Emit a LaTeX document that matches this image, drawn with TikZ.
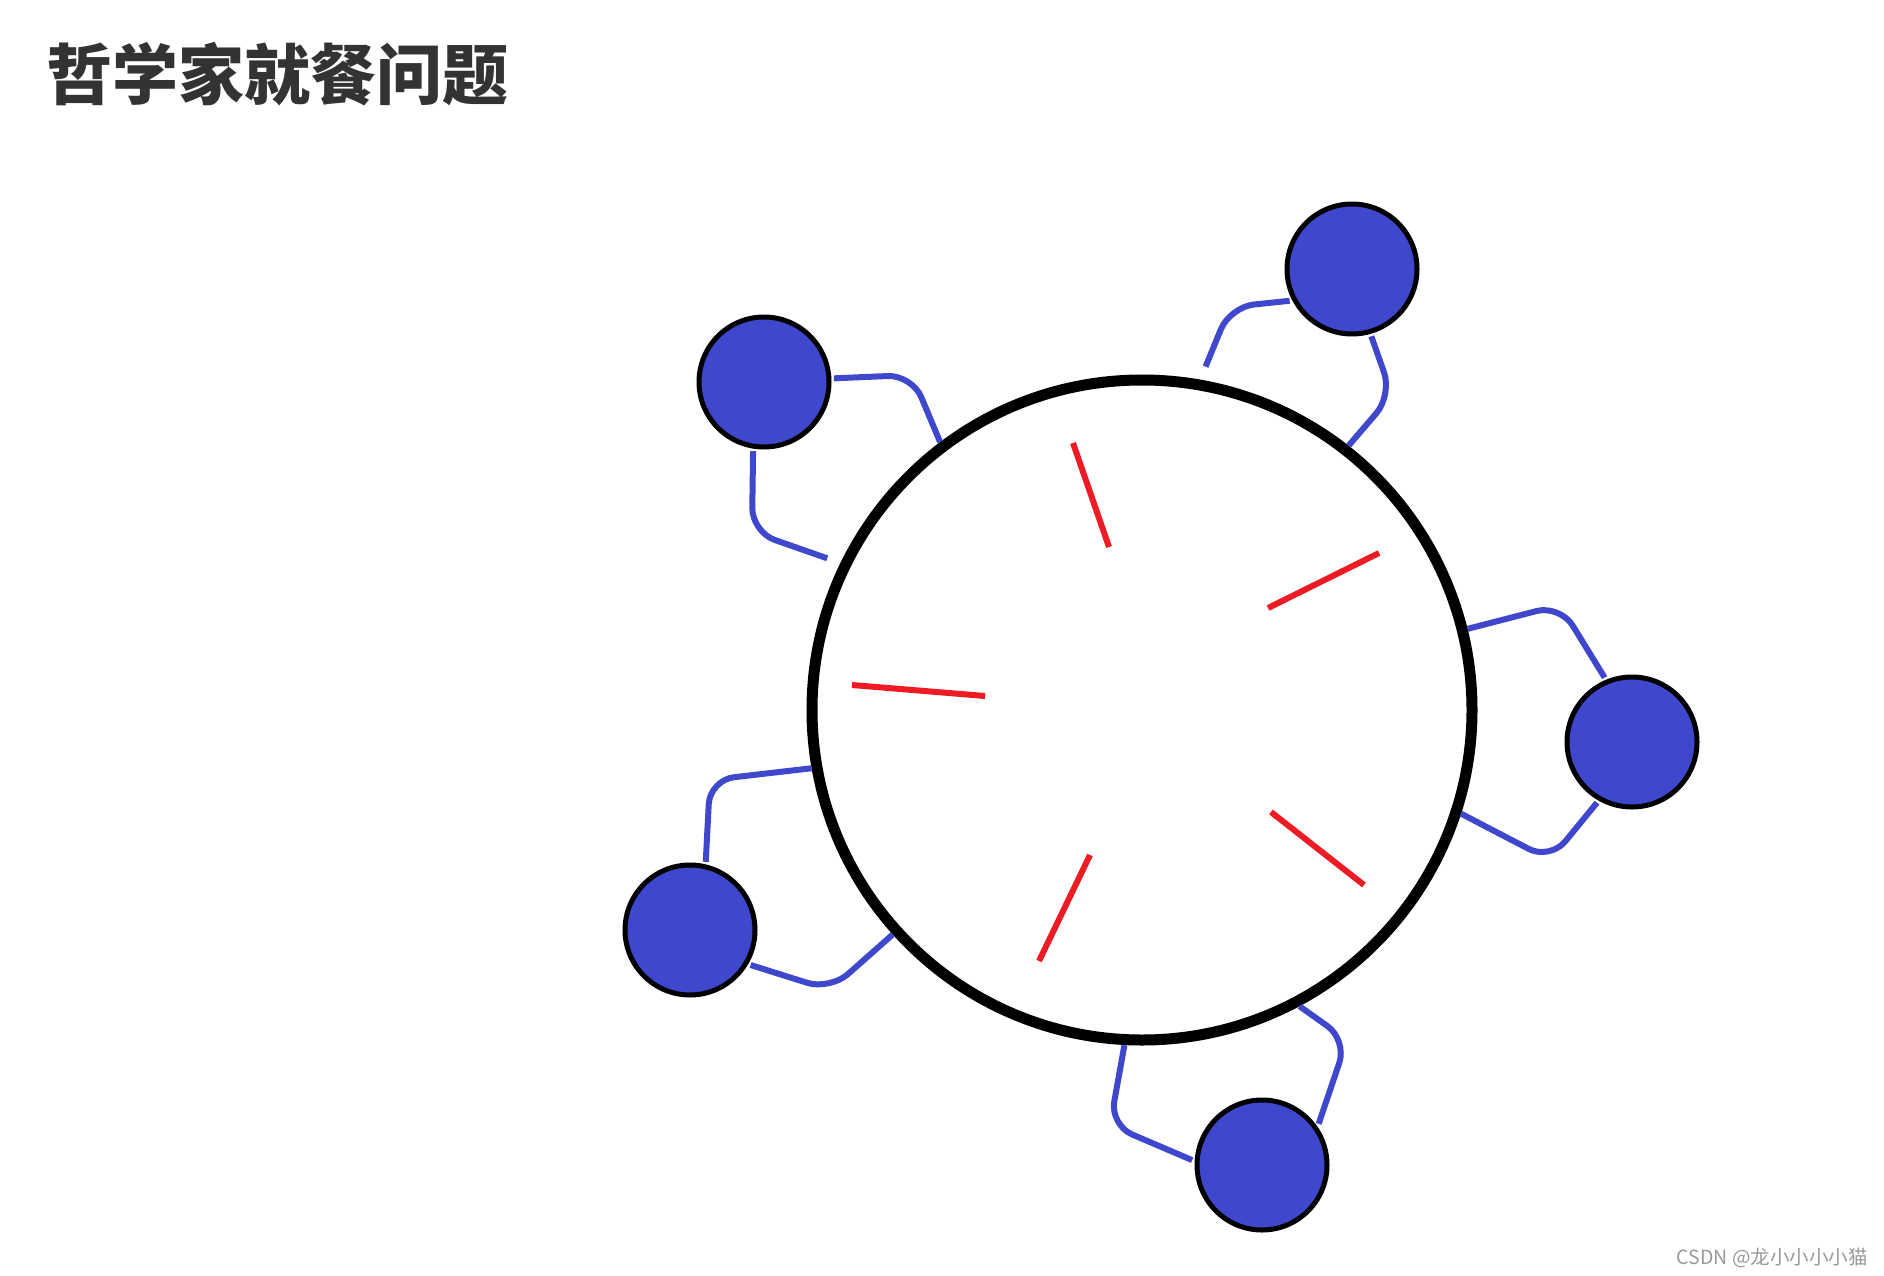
\documentclass[tikz,border=0pt]{standalone}
\usepackage{fontspec}
\newfontfamily\cjk{Noto Sans CJK SC}
\definecolor{paintblue}{RGB}{63,72,204}
\definecolor{paintred}{RGB}{237,28,36}
\tikzset{
  roundnode/.style = {circle, inner sep=0pt},
  phl_b/.style = {roundnode, fill=paintblue, draw=black, minimum size=130pt, line width=5pt, outer sep=5pt},
  tbl_k/.style = {roundnode, draw=black, minimum size=660pt, line width=11pt},
  arm_b/.style = {paintblue, line width=6pt, rounded corners=24pt},
  fork_r/.style = {paintred, line width=6pt},
}

\begin{document}
\begin{tikzpicture}[x=1pt, y=-1pt]
  \useasboundingbox (0,0) rectangle (1884,1276);
  \node [anchor=west, inner sep=0pt, text=black!80, font=\cjk\bfseries\fontsize{66}{66}\selectfont] (title) at (46,74) {哲学家就餐问题};
  \node [anchor=east, inner sep=0pt, text=black!40, font=\cjk\fontsize{19.5}{19.5}\selectfont] (mark) at (1868,1258) {CSDN @龙小小小小猫};

  % table and philosophers
  \node [tbl_k] (table) at (1142,710) {};
  \node [phl_b] (phil1) at (764,382) {};
  \node [phl_b] (phil2) at (1352,269) {};
  \node [phl_b] (phil3) at (1632,742) {};
  \node [phl_b] (phil4) at (1262,1165) {};
  \node [phl_b] (phil5) at (690,930) {};

  % chopsticks
  \draw [fork_r] (1073,443) -- (1109,547);
  \draw [fork_r] (1379,553) -- (1268,608);
  \draw [fork_r] (1364,885) -- (1271,812);
  \draw [fork_r] (1090,855) -- (1039,961);
  \draw [fork_r] (852,685) -- (985,696);

  % arms
  \draw [arm_b] (phil1.3) -- (912,375) -- (table.127.6);
  \draw [arm_b, shorten >=14pt] (phil1.-99) -- (752,532) -- (table.154);
  \draw [arm_b, shorten >=14pt] (phil2.207) -- (1230,307) -- (table.80.8);
  \draw [arm_b] (phil2.-74) -- (1392,395) -- (table.52.9);
  \draw [arm_b] (table.14.7) -- (1560,605) -- (phil3.113);
  \draw [arm_b] (table.-18.1) -- (1550,860) -- (phil3.240);
  \draw [arm_b] (table.267.1) -- (1110,1125) -- (phil4.176);
  \draw [arm_b] (table.-62.4) -- (1347,1040) -- (phil4.36);
  \draw [arm_b] (phil5.77) -- (710,780) -- (table.190.6);
  \draw [arm_b] (phil5.-30) -- (830,990) -- (table.222.6);
\end{tikzpicture}
\end{document}
